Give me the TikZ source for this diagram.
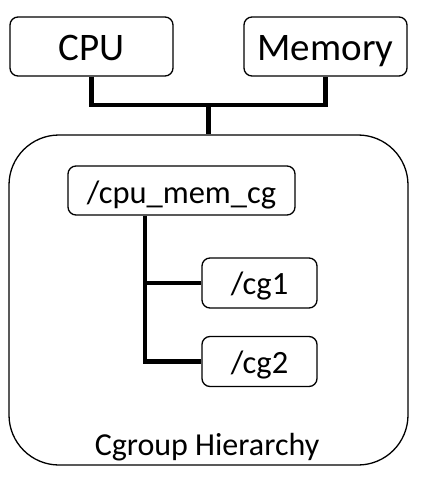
\documentclass[tikz,border=0pt]{standalone}
\usepackage{fontspec}
\setmainfont{Carlito}
\begin{document}
\begin{tikzpicture}[x=1pt,y=-1pt,
  box/.style={draw=black, line width=1.3pt, rounded corners=8pt, inner sep=0pt},
  conn/.style={draw=black, line width=4.5pt},
  bigfont/.style={font=\fontsize{39}{44}\selectfont, text height=29pt, text depth=0pt},
  midfont/.style={font=\fontsize{32.5}{38}\selectfont, text height=23pt, text depth=0pt}]
\useasboundingbox (0,0) rectangle (424,481);
\node[box, bigfont, minimum width=163pt, minimum height=59pt] (cpu) at (91.5,46.5) {CPU};
\node[box, bigfont, minimum width=163pt, minimum height=59pt] (mem) at (325.5,46.5) {Memory};
\node[draw=black, line width=1.3pt, rounded corners=50pt, minimum width=399pt, minimum height=330pt] (big) at (208.5,300) {};
\node[box, midfont, text height=26pt, minimum width=227pt, minimum height=49pt] (cpumem) at (181.5,190.5) {/cpu\_mem\_cg};
\node[box, midfont, minimum width=115pt, minimum height=50pt] (cg1) at (259.5,283) {/cg1};
\node[box, midfont, minimum width=115pt, minimum height=50pt] (cg2) at (259.5,361.5) {/cg2};
\node[font=\fontsize{32}{38}\selectfont, inner sep=0pt, anchor=base] (lbl) at (207,455) {Cgroup Hierarchy};
\coordinate (jn) at (208.5,105);
\coordinate (trunk) at (145,0);
\draw[conn] (cpu.south) |- (jn) -| (mem.south);
\draw[conn] (jn) -- (big.north);
\draw[conn] (cpumem.south -| trunk) |- (cg2.west);
\draw[conn] (trunk |- cg1.west) -- (cg1.west);
\end{tikzpicture}
\end{document}
